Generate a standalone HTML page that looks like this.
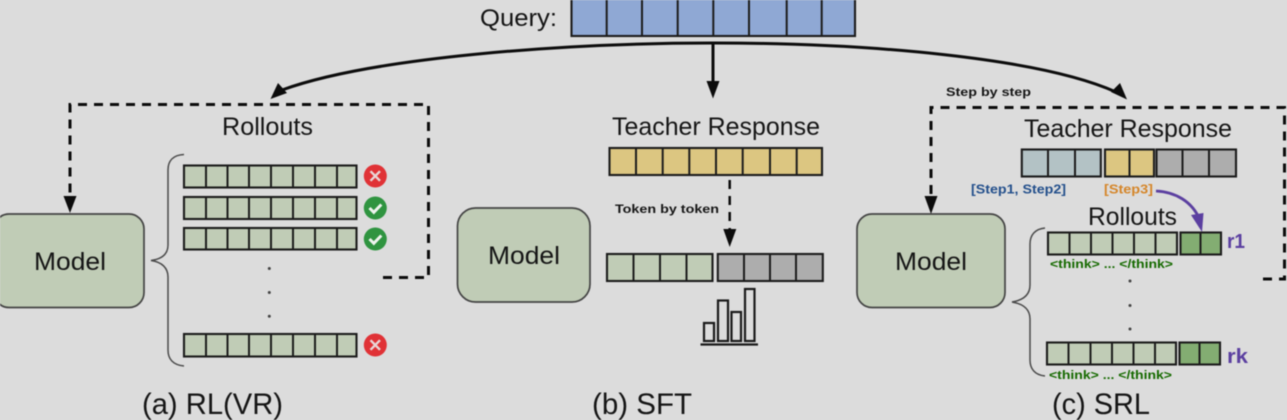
<!DOCTYPE html>
<html><head><meta charset="utf-8"><style>
html,body{margin:0;padding:0;background:#dcdcdc;width:1287px;height:420px;overflow:hidden}
svg{display:block;filter:blur(0.55px)}
text{font-family:"Liberation Sans",sans-serif;fill:#151515}
.c{stroke:#1c1c1c;stroke-width:2;fill:none}
.d{stroke:#0c0c0c;stroke-width:3;fill:none;stroke-dasharray:9 7}
.b{stroke:#4a4a4a;stroke-width:1.5;fill:none}
.bd{stroke:#1c1c1c;stroke-width:2.1}
.g{fill:#c0ccb6}.dg{fill:#83ad72}.gr{fill:#adadad}.y{fill:#dcc681}.bl{fill:#8fa8d4}.s{fill:#b3c2c5}
.m{fill:#c0ccb6;stroke:#444;stroke-width:1.7}
.t{fill:#166a00;font-weight:bold;font-size:11.5px}
</style></head><body>
<svg width="1287" height="420" viewBox="0 0 1287 420" xmlns="http://www.w3.org/2000/svg">
<rect width="1287" height="420" fill="#dcdcdc"/>

<!-- Query -->
<text x="480" y="26" font-size="24" textLength="77" lengthAdjust="spacingAndGlyphs">Query:</text>
<rect class="bl bd" x="571.500" y="-2" width="283.500" height="38"/>
<path class="c" d="M606.700 0V36M642 0V36M677.700 0V36M713.300 0V36M749 0V36M786.700 0V36M821.700 0V36"/>

<!-- Top arrows -->
<path d="M282 90C370 58 560 43 713 43C870 43 1040 58 1116 92" fill="none" stroke="#0c0c0c" stroke-width="3"/>
<path d="M270.500 99L278 83L287 93Z" fill="#0c0c0c"/>
<path d="M1127 99.500L1111 92L1120 83Z" fill="#0c0c0c"/>
<path d="M713 43V90" stroke="#0c0c0c" stroke-width="3" fill="none"/>
<path d="M706.500 81H719.500L713 98.500Z" fill="#0c0c0c"/>

<!-- Panel a -->
<path class="d" d="M383 277.500H428.500V104.500H70V200"/>
<path d="M63.500 196H76.500L70 213Z" fill="#0c0c0c"/>
<rect class="m" x="-6" y="214" width="150" height="93.500" rx="15"/>
<text x="34" y="270" font-size="25" textLength="72" lengthAdjust="spacingAndGlyphs">Model</text>
<text x="222" y="135" font-size="25" textLength="91" lengthAdjust="spacingAndGlyphs">Rollouts</text>
<path class="b" d="M184 154.500C173 155 168 161 168 170V245C168 254 162 259 151 260.500C162 262 168 268 168 277V350C168 359 173 365 184 366"/>
<g id="rows">
<rect class="g bd" x="184" y="165.500" width="172.500" height="22"/>
<path class="c" d="M206 165.500v22M227.500 165.500v22M249 165.500v22M271 165.500v22M293 165.500v22M315 165.500v22M337 165.500v22"/>
<rect class="g bd" x="184" y="197" width="172.500" height="22"/>
<path class="c" d="M206 197v22M227.500 197v22M249 197v22M271 197v22M293 197v22M315 197v22M337 197v22"/>
<rect class="g bd" x="184" y="228" width="172.500" height="21.500"/>
<path class="c" d="M206 228v21.500M227.500 228v21.500M249 228v21.500M271 228v21.500M293 228v21.500M315 228v21.500M337 228v21.500"/>
<rect class="g bd" x="184" y="334" width="172.500" height="22.500"/>
<path class="c" d="M206 334v22.500M227.500 334v22.500M249 334v22.500M271 334v22.500M293 334v22.500M315 334v22.500M337 334v22.500"/>
</g>
<circle cx="375.300" cy="176" r="11.500" fill="#e03236"/>
<path d="M370.500 171.200L380 180.800M380 171.200L370.500 180.800" stroke="#e8d6d6" stroke-width="2.400" fill="none"/>
<circle cx="375.300" cy="208" r="11.500" fill="#2f9440"/>
<path d="M369.500 208L373.800 212.300L381.300 204.500" stroke="#eef3ee" stroke-width="3" fill="none"/>
<circle cx="375.300" cy="239" r="11.500" fill="#2f9440"/>
<path d="M369.500 239L373.800 243.300L381.300 235.500" stroke="#eef3ee" stroke-width="3" fill="none"/>
<circle cx="375.300" cy="345" r="11.500" fill="#e03236"/>
<path d="M370.500 340.200L380 349.800M380 340.200L370.500 349.800" stroke="#e8d6d6" stroke-width="2.400" fill="none"/>
<circle cx="269.300" cy="268.500" r="1.500" fill="#444"/>
<circle cx="269.300" cy="292.500" r="1.500" fill="#444"/>
<circle cx="269.300" cy="316.300" r="1.500" fill="#444"/>
<text x="142" y="414" font-size="30" textLength="141" lengthAdjust="spacingAndGlyphs">(a) RL(VR)</text>

<!-- Panel b -->
<text x="612" y="135" font-size="25" textLength="208" lengthAdjust="spacingAndGlyphs">Teacher Response</text>
<rect class="y bd" x="609.500" y="148" width="212.500" height="27"/>
<path class="c" d="M636 148v27M662.700 148v27M689.300 148v27M716 148v27M742.700 148v27M770 148v27M796.700 148v27"/>
<path class="d" style="stroke-width:2.500" d="M729.700 180V236"/>
<path d="M723.300 229H736.300L729.700 247Z" fill="#0c0c0c"/>
<text x="615" y="213" font-size="12" font-weight="bold" textLength="104" lengthAdjust="spacingAndGlyphs">Token by token</text>
<rect class="m" x="457.500" y="208" width="132.500" height="94" rx="18"/>
<text x="488" y="264" font-size="25" textLength="72" lengthAdjust="spacingAndGlyphs">Model</text>
<rect class="g bd" x="607" y="254" width="105.500" height="27"/>
<path class="c" d="M633.500 254v27M660 254v27M686.500 254v27"/>
<rect class="gr bd" x="717.800" y="254" width="105" height="27"/>
<path class="c" d="M744 254v27M770 254v27M796 254v27"/>
<g fill="none" stroke="#1a1a1a" stroke-width="2.200">
<rect x="704" y="323" width="10" height="18"/>
<rect x="718" y="300.500" width="10" height="40.500"/>
<rect x="731.500" y="312" width="9.500" height="29"/>
<rect x="745" y="289" width="9.500" height="52"/>
<path d="M700.500 344.500H758"/>
</g>
<text x="592" y="414" font-size="30" textLength="100" lengthAdjust="spacingAndGlyphs">(b) SFT</text>

<!-- Panel c -->
<text x="946" y="96" font-size="12" font-weight="bold" textLength="85" lengthAdjust="spacingAndGlyphs">Step by step</text>
<path class="d" d="M1263 279H1284.500V107.500H931V200"/>
<path d="M924.500 196H937.500L931 214Z" fill="#0c0c0c"/>
<text x="1024" y="137" font-size="25" textLength="208" lengthAdjust="spacingAndGlyphs">Teacher Response</text>
<rect class="s bd" x="1021.800" y="149.500" width="79" height="27"/>
<path class="c" d="M1048 149.500v27M1075 149.500v27"/>
<rect class="y bd" x="1105" y="149.500" width="49" height="27"/>
<path class="c" d="M1129.500 149.500v27"/>
<rect class="gr bd" x="1156.500" y="149.500" width="79.500" height="27"/>
<path class="c" d="M1182.500 149.500v27M1209 149.500v27"/>
<text x="971" y="193.500" font-size="13" font-weight="bold" style="fill:#24508c" textLength="95" lengthAdjust="spacingAndGlyphs">[Step1, Step2]</text>
<text x="1104" y="193.500" font-size="13" font-weight="bold" style="fill:#d5862a" textLength="49" lengthAdjust="spacingAndGlyphs">[Step3]</text>
<path d="M1156 191C1175 192 1192 201 1200 220" fill="none" stroke="#5b3fa0" stroke-width="2.800"/>
<path d="M1202 232L1191 215L1203.500 213Z" fill="#5b3fa0"/>
<text x="1088" y="225" font-size="25" textLength="89" lengthAdjust="spacingAndGlyphs">Rollouts</text>
<rect class="m" x="857" y="214" width="148" height="93.500" rx="15"/>
<text x="895" y="270" font-size="25" textLength="72" lengthAdjust="spacingAndGlyphs">Model</text>
<path class="b" d="M1045 228C1035 229 1030 235 1030 244V285C1030 294 1024 300 1012 302C1024 304 1030 310 1030 319V360C1030 369 1035 375 1045 376"/>
<rect class="g bd" x="1048" y="232.500" width="129" height="22"/>
<path class="c" d="M1069.500 232.500v22M1091 232.500v22M1112.500 232.500v22M1134 232.500v22M1155.500 232.500v22"/>
<rect class="dg bd" x="1180.500" y="232.500" width="40.500" height="22"/>
<path class="c" d="M1200.500 232.500v22"/>
<text x="1227" y="248" font-size="20" font-weight="bold" style="fill:#5b3fa0" textLength="18" lengthAdjust="spacingAndGlyphs">r1</text>
<text class="t" x="1050" y="268" textLength="123" lengthAdjust="spacingAndGlyphs">&lt;think&gt; ... &lt;/think&gt;</text>
<circle cx="1130" cy="281" r="1.500" fill="#444"/>
<circle cx="1130" cy="305.500" r="1.500" fill="#444"/>
<circle cx="1130" cy="329" r="1.500" fill="#444"/>
<rect class="g bd" x="1047" y="342.500" width="129" height="22"/>
<path class="c" d="M1068.500 342.500v22M1090.500 342.500v22M1112 342.500v22M1133.500 342.500v22M1155 342.500v22"/>
<rect class="dg bd" x="1179.500" y="342.500" width="40.500" height="22"/>
<path class="c" d="M1199.500 342.500v22"/>
<text x="1227" y="363" font-size="20" font-weight="bold" style="fill:#5b3fa0" textLength="21" lengthAdjust="spacingAndGlyphs">rk</text>
<text class="t" x="1049" y="379" textLength="123" lengthAdjust="spacingAndGlyphs">&lt;think&gt; ... &lt;/think&gt;</text>
<text x="1052" y="414" font-size="30" textLength="98" lengthAdjust="spacingAndGlyphs">(c) SRL</text>
</svg>
</body></html>
